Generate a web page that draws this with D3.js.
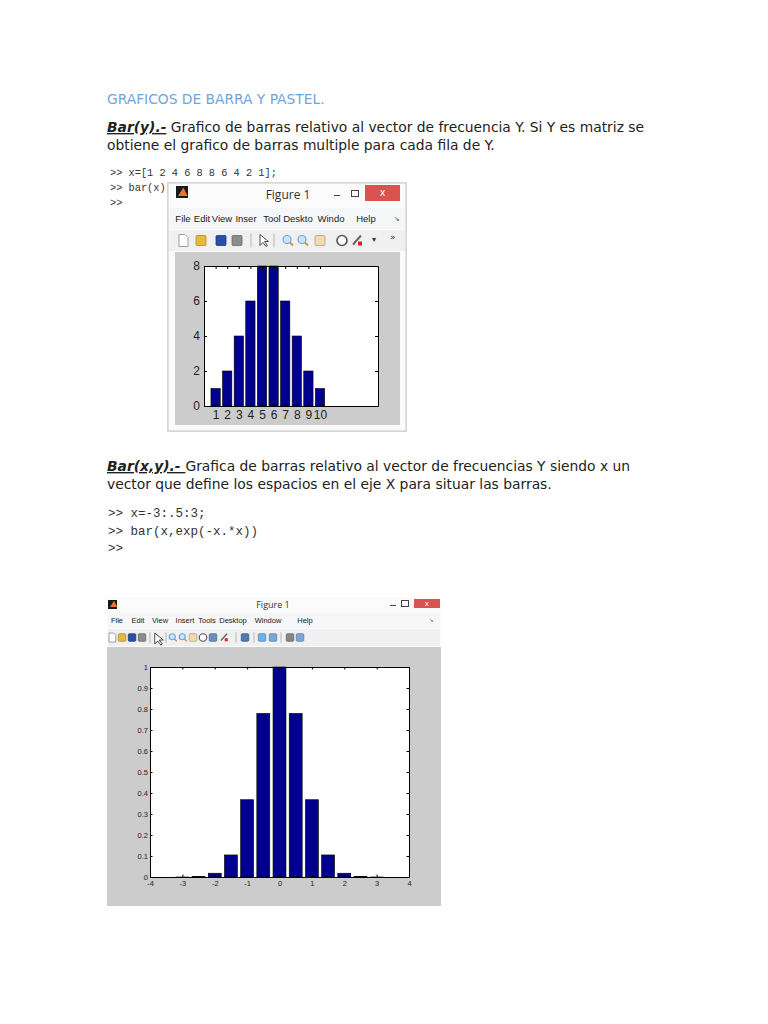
<!DOCTYPE html>
<html>
<head>
<meta charset="utf-8">
<script src="https://cdn.jsdelivr.net/npm/d3@7"></script>
<style>
  body { margin: 0; background: #fff; }
  svg text { font-family: "DejaVu Sans", sans-serif; }
</style>
</head>
<body>
<div id="page"></div>
<script>
// bar(y) data
const freqCats = [1, 2, 3, 4, 5, 6, 7, 8, 9, 10];
const freqValues = [1, 2, 4, 6, 8, 8, 6, 4, 2, 1];
const yTicks1 = [0, 2, 4, 6, 8];

// bar(x, y) data
const xVals = [-3, -2.5, -2, -1.5, -1, -0.5, 0, 0.5, 1, 1.5, 2, 2.5, 3];
const yVals = [0.0001, 0.002, 0.018, 0.105, 0.368, 0.779, 1, 0.779, 0.368, 0.105, 0.018, 0.002, 0.0001];
const xTicks2 = [-4, -3, -2, -1, 0, 1, 2, 3, 4];
const yTicks2 = [0, 0.1, 0.2, 0.3, 0.4, 0.5, 0.6, 0.7, 0.8, 0.9, 1];

const menu1 = ["File", "Edit", "View", "Inser", "Tool", "Deskto", "Windo", "Help"];
const menu2 = ["File", "Edit", "View", "Insert", "Tools", "Desktop", "Window", "Help"];

(function () {
  const svg = d3.select("#page").append("svg").attr("width", 768).attr("height", 1024);
  svg.append("rect").attr("width", 768).attr("height", 1024).attr("fill", "#fff");

  // Document text
  svg.append("text").attr("x", 107).attr("y", 104)
    .style("font-size", "13.8px").attr("fill", "#6fa6dc")
    .text("GRAFICOS DE BARRA Y PASTEL.");

  function paragraph(y, head, line1, line2, family) {
    const t = svg.append("text").attr("x", 107).attr("y", y)
      .style("font-size", "13.85px").attr("fill", "#222")
      .style("font-family", family);
    t.append("tspan").style("font-weight", "bold").style("font-style", "italic")
      .style("text-decoration", "underline").text(head);
    t.append("tspan").text(line1);
    svg.append("text").attr("x", 107).attr("y", y + 18)
      .style("font-size", "13.85px").attr("fill", "#222").style("font-family", family)
      .text(line2);
  }
  paragraph(132, "Bar(y).-", " Grafico de barras relativo al vector de frecuencia Y. Si Y es matriz se",
    "obtiene el grafico de barras multiple para cada fila de Y.", "DejaVu Sans");
  paragraph(471, "Bar(x,y).- ", "Grafica de barras relativo al vector de frecuencias Y siendo x un",
    "vector que define los espacios en el eje X para situar las barras.", "DejaVu Sans");

  function code(lines, x, y0, dy, size) {
    lines.forEach((s, i) => {
      svg.append("text").attr("x", x).attr("y", y0 + i * dy)
        .style("font-family", "Liberation Mono, monospace").style("font-size", size + "px")
        .attr("fill", "#333").text(s);
    });
  }
  code([">> x=[1 2 4 6 8 8 6 4 2 1];", ">> bar(x)", ">>"], 110, 176, 15, 10.3);
  code([">> x=-3:.5:3;", ">> bar(x,exp(-x.*x))", ">>"], 108, 517, 17.5, 12.5);

  // Window chrome
  function icon(g, type, x, y, s) {
    const k = s / 12;
    if (type === "sep") {
      g.append("line").attr("x1", x).attr("x2", x).attr("y1", y - 7 * k).attr("y2", y + 7 * k)
        .attr("stroke", "#b8b8b8");
      return;
    }
    const col = {
      new: "#fff", open: "#e8b93c", save: "#2b4fa8", print: "#8c8c8c", arrow: "#fff",
      zin: "#6aa8e0", zout: "#6aa8e0", pan: "#f3d7b0", rot: "#555", brush: "#666",
      link: "#6a8fc0", cbar: "#6fb0e8", legend: "#7da6d8", grid: "#888", plot: "#5078b0"
    }[type];
    if (type === "zin" || type === "zout") {
      g.append("circle").attr("cx", x - 1 * k).attr("cy", y - 1 * k).attr("r", 4 * k)
        .attr("fill", "#cfe3f5").attr("stroke", col).attr("stroke-width", 1.2);
      g.append("line").attr("x1", x + 2 * k).attr("y1", y + 2 * k).attr("x2", x + 5 * k).attr("y2", y + 5 * k)
        .attr("stroke", "#c79a3a").attr("stroke-width", 2 * k);
    } else if (type === "rot") {
      g.append("circle").attr("cx", x).attr("cy", y).attr("r", 5 * k)
        .attr("fill", "#fff").attr("stroke", col).attr("stroke-width", 1.6 * k);
    } else if (type === "arrow") {
      g.append("path").attr("d", `M${x - 3 * k},${y - 6 * k}l0,11l3,-3l3,4l1.5,-1l-3,-4l4,0z`)
        .attr("fill", "#fff").attr("stroke", "#222").attr("stroke-width", 0.8);
    } else if (type === "brush") {
      g.append("line").attr("x1", x - 4 * k).attr("y1", y + 4 * k).attr("x2", x + 4 * k).attr("y2", y - 5 * k)
        .attr("stroke", col).attr("stroke-width", 2 * k);
      g.append("rect").attr("x", x + 1 * k).attr("y", y + 1 * k).attr("width", 4 * k).attr("height", 4 * k)
        .attr("fill", "#e02020");
    } else if (type === "new") {
      g.append("path").attr("d", `M${x - 4 * k},${y - 6 * k}h${6 * k}l${3 * k},${3 * k}v${9 * k}h${-9 * k}z`)
        .attr("fill", "#fff").attr("stroke", "#888").attr("stroke-width", 0.8);
    } else {
      g.append("rect").attr("x", x - 5 * k).attr("y", y - 5 * k).attr("width", 10 * k).attr("height", 10 * k)
        .attr("rx", 1).attr("fill", col).attr("stroke", d3.color(col).darker(0.8))
        .attr("stroke-width", 0.8);
    }
  }

  function windowFrame(o) {
    const g = svg.append("g");
    g.append("rect").attr("x", o.x0 - 1).attr("y", o.y0 - 1).attr("width", o.x1 - o.x0 + 2)
      .attr("height", o.y1 - o.y0 + 2).attr("fill", o.border ? "#e4e4e4" : "none");
    g.append("rect").attr("x", o.x0).attr("y", o.y0).attr("width", o.x1 - o.x0)
      .attr("height", o.y1 - o.y0).attr("fill", "#fbfbfb")
      .attr("stroke", o.border ? "#c8c8c8" : "none");
    // title bar
    g.append("rect").attr("x", o.ix - 1).attr("y", o.tb[0] + 3).attr("width", o.isz).attr("height", o.isz)
      .attr("fill", "#1a1a1a");
    g.append("path").attr("d", `M${o.ix + 1},${o.tb[0] + 3 + o.isz - 2}l${o.isz * 0.45},${-o.isz * 0.7}l${o.isz * 0.35},${o.isz * 0.7}z`)
      .attr("fill", "#e8782a");
    g.append("text").attr("x", o.tx).attr("y", (o.tb[0] + o.tb[1]) / 2).attr("dy", "0.35em")
      .attr("text-anchor", "middle").style("font-family", "Open Sans, sans-serif")
      .style("font-size", o.tfs + "px").attr("fill", "#333").text("Figure 1");
    g.append("line").attr("x1", o.minx - 3).attr("x2", o.minx + 3)
      .attr("y1", (o.tb[0] + o.tb[1]) / 2 + 1).attr("y2", (o.tb[0] + o.tb[1]) / 2 + 1)
      .attr("stroke", "#444").attr("stroke-width", 1);
    g.append("rect").attr("x", o.maxx - 3.5).attr("y", (o.tb[0] + o.tb[1]) / 2 - 4)
      .attr("width", 7).attr("height", 6).attr("fill", "none").attr("stroke", "#444")
      .attr("stroke-width", 1);
    g.append("rect").attr("x", o.close[0]).attr("y", o.close[1]).attr("width", o.close[2] - o.close[0])
      .attr("height", o.close[3] - o.close[1]).attr("fill", "#d9534f");
    g.append("text").attr("x", (o.close[0] + o.close[2]) / 2).attr("y", (o.close[1] + o.close[3]) / 2)
      .attr("dy", "0.35em").attr("text-anchor", "middle").attr("fill", "#fff")
      .style("font-size", o.tfs * 0.8 + "px").text("x");
    // menu bar
    g.append("rect").attr("x", o.x0 + 1).attr("y", o.mb[0]).attr("width", o.x1 - o.x0 - 2)
      .attr("height", o.mb[1] - o.mb[0]).attr("fill", "#f5f6f7");
    o.menu.forEach((m, i) => {
      g.append("text").attr("x", o.mx[i]).attr("y", (o.mb[0] + o.mb[1]) / 2).attr("dy", "0.35em")
        .attr("text-anchor", "middle").style("font-family", "Liberation Sans, Arial, sans-serif")
        .style("font-size", o.mfs + "px").attr("fill", "#222").text(m);
    });
    g.append("text").attr("x", o.x1 - 12).attr("y", (o.mb[0] + o.mb[1]) / 2).attr("dy", "0.35em")
      .style("font-size", o.mfs * 0.7 + "px").attr("fill", "#333").text("↘");
    // toolbar
    g.append("rect").attr("x", o.x0 + 1).attr("y", o.tl[0]).attr("width", o.x1 - o.x0 - 2)
      .attr("height", o.tl[1] - o.tl[0]).attr("fill", "#f0f0f0");
    o.icons.forEach(([type, x]) => icon(g, type, x, (o.tl[0] + o.tl[1]) / 2, o.isz));
    // figure background
    g.append("rect").attr("x", o.gx[0]).attr("y", o.gy[0]).attr("width", o.gx[1] - o.gx[0])
      .attr("height", o.gy[1] - o.gy[0]).attr("fill", "#cccccc");
  }

  windowFrame({
    x0: 168, x1: 406, y0: 183, y1: 431, border: true,
    tb: [183, 206], ix: 177, isz: 12, tx: 288, tfs: 12, minx: 337, maxx: 355,
    close: [365, 185, 400, 201],
    mb: [208, 229], mx: [183, 202, 222, 246, 272, 298, 331, 366], mfs: 9.5, menu: menu1,
    tl: [230, 251],
    icons: [["new", 183], ["open", 201], ["save", 221], ["print", 237], ["sep", 251], ["arrow", 263],
      ["sep", 274], ["zin", 288], ["zout", 303], ["pan", 320], ["rot", 342], ["brush", 357]],
    gx: [175, 400], gy: [252, 425]
  });
  svg.append("text").attr("x", 372).attr("y", 242).style("font-size", "8px").attr("fill", "#333").text("▾");
  svg.append("text").attr("x", 390).attr("y", 240).style("font-size", "9px").attr("fill", "#333").text("»");

  windowFrame({
    x0: 107, x1: 441, y0: 597, y1: 906, border: false,
    tb: [597, 612], ix: 109, isz: 9, tx: 273, tfs: 9, minx: 393, maxx: 405,
    close: [414, 599, 440, 608],
    mb: [613, 628], mx: [117, 138, 160, 185, 207, 233, 268, 305], mfs: 7.5, menu: menu2,
    tl: [629, 646],
    icons: [["new", 112], ["open", 122], ["save", 132], ["print", 142], ["sep", 150], ["arrow", 157],
      ["sep", 166], ["zin", 173], ["zout", 183], ["pan", 193], ["rot", 203], ["link", 213],
      ["brush", 224], ["sep", 236], ["plot", 245], ["sep", 254], ["cbar", 262], ["legend", 273],
      ["sep", 281], ["grid", 290], ["legend", 300]],
    gx: [107, 441], gy: [647, 906]
  });

  function styleAxis(g, size) {
    g.select(".domain").attr("stroke", "#000");
    g.selectAll(".tick line").attr("stroke", "#000");
    g.selectAll("text").style("font-family", "Liberation Sans, Arial, sans-serif")
      .style("font-size", size + "px").attr("fill", "#222");
  }
  const plain = (d) => String(d);

  // Chart 1: bar(y)
  const x1 = d3.scaleLinear().domain([0, 15]).range([204, 378]);
  const y1 = d3.scaleLinear().domain([0, 8]).range([406, 266]);
  const c1 = svg.append("g");
  c1.append("rect").attr("x", x1(0)).attr("y", y1(8)).attr("width", x1(15) - x1(0))
    .attr("height", y1(0) - y1(8)).attr("fill", "#fff");
  const bw1 = x1(0.8) - x1(0);
  c1.selectAll(".bar1").data(freqValues).enter().append("rect")
    .attr("x", (d, i) => x1(freqCats[i]) - bw1 / 2)
    .attr("y", (d) => y1(d))
    .attr("width", bw1)
    .attr("height", (d) => y1(0) - y1(d))
    .attr("fill", "#00008f").attr("stroke", "#000").attr("stroke-width", 0.6);

  c1.append("g").attr("transform", `translate(0,${y1(0)})`)
    .call(d3.axisBottom(x1).tickValues(freqCats).tickSizeInner(-3).tickSizeOuter(0).tickPadding(4).tickFormat(plain))
    .call((g) => styleAxis(g, 12));
  c1.append("g").attr("transform", `translate(0,${y1(8)})`)
    .call(d3.axisTop(x1).tickValues(freqCats).tickSizeInner(-3).tickSizeOuter(0).tickFormat(""))
    .call((g) => styleAxis(g, 12));
  c1.append("g").attr("transform", `translate(${x1(0)},0)`)
    .call(d3.axisLeft(y1).tickValues(yTicks1).tickSizeInner(-3).tickSizeOuter(0).tickPadding(4).tickFormat(plain))
    .call((g) => styleAxis(g, 12));
  c1.append("g").attr("transform", `translate(${x1(15)},0)`)
    .call(d3.axisRight(y1).tickValues(yTicks1).tickSizeInner(-3).tickSizeOuter(0).tickFormat(""))
    .call((g) => styleAxis(g, 12));

  // Chart 2: bar(x, exp(-x.*x))
  const x2 = d3.scaleLinear().domain([-4, 4]).range([150, 409]);
  const y2 = d3.scaleLinear().domain([0, 1]).range([877, 667]);
  const c2 = svg.append("g");
  c2.append("rect").attr("x", x2(-4)).attr("y", y2(1)).attr("width", x2(4) - x2(-4))
    .attr("height", y2(0) - y2(1)).attr("fill", "#fff");
  const bw2 = x2(0.4) - x2(0);
  c2.selectAll(".bar2").data(yVals).enter().append("rect")
    .attr("x", (d, i) => x2(xVals[i]) - bw2 / 2)
    .attr("y", (d) => y2(d))
    .attr("width", bw2)
    .attr("height", (d) => y2(0) - y2(d))
    .attr("fill", "#00008f").attr("stroke", "#000").attr("stroke-width", 0.6);

  c2.append("g").attr("transform", `translate(0,${y2(0)})`)
    .call(d3.axisBottom(x2).tickValues(xTicks2).tickSizeInner(-2.5).tickSizeOuter(0).tickPadding(4).tickFormat(plain))
    .call((g) => styleAxis(g, 7.5));
  c2.append("g").attr("transform", `translate(0,${y2(1)})`)
    .call(d3.axisTop(x2).tickValues(xTicks2).tickSizeInner(-2.5).tickSizeOuter(0).tickFormat(""))
    .call((g) => styleAxis(g, 7.5));
  c2.append("g").attr("transform", `translate(${x2(-4)},0)`)
    .call(d3.axisLeft(y2).tickValues(yTicks2).tickSizeInner(-2.5).tickSizeOuter(0).tickPadding(2).tickFormat(plain))
    .call((g) => styleAxis(g, 7.5));
  c2.append("g").attr("transform", `translate(${x2(4)},0)`)
    .call(d3.axisRight(y2).tickValues(yTicks2).tickSizeInner(-2.5).tickSizeOuter(0).tickFormat(""))
    .call((g) => styleAxis(g, 7.5));
})();
</script>
</body>
</html>
